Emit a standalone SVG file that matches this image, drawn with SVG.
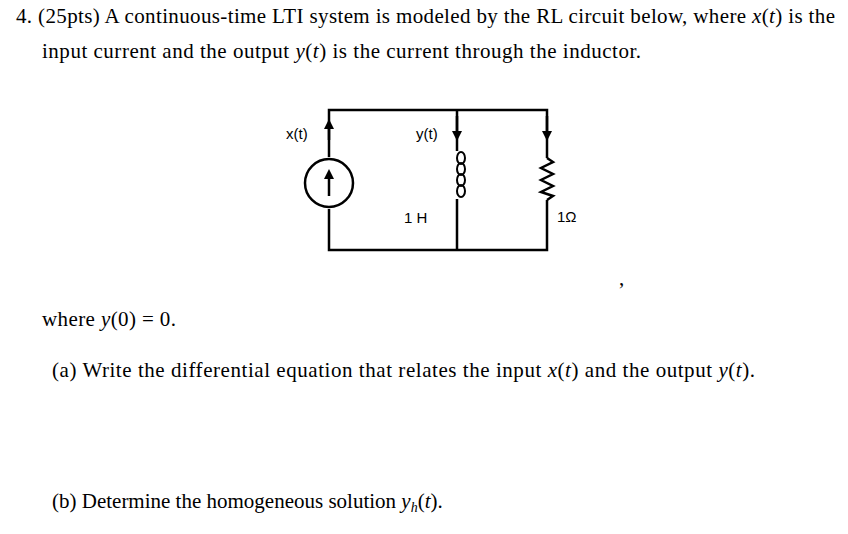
<svg xmlns="http://www.w3.org/2000/svg" width="848" height="534" viewBox="0 0 848 534">
<style>
.t{font-family:"Liberation Serif",serif;font-size:21px;fill:#000}
.i{font-style:italic}
.c{font-family:"Liberation Sans",sans-serif;font-size:15px;fill:#000}
.w{fill:none;stroke:#000;stroke-width:2.5}
.l{fill:none;stroke:#000;stroke-width:2}
</style>
<defs><marker id="ah" viewBox="0 0 10 10" refX="5" refY="5" markerWidth="4" markerHeight="4" orient="auto"><path d="M0,0 L10,5 L0,10 z" fill="#000"/></marker></defs>
<rect width="848" height="534" fill="#fff"/>
<text class="t" x="16" y="23" textLength="819" lengthAdjust="spacing">4. (25pts) A continuous-time LTI system is modeled by the RL circuit below, where <tspan class="i">x</tspan>(<tspan class="i">t</tspan>) is the</text>
<text class="t" x="42" y="58" textLength="599" lengthAdjust="spacing">input current and the output <tspan class="i">y</tspan>(<tspan class="i">t</tspan>) is the current through the inductor.</text>
<g id="circuit">
<path class="w" d="M329,157 V110 H547 V158 M329,209 V250 H547 V200 M457,110 V151 M457,199 V250"/>
<circle class="w" cx="329" cy="183" r="24"/>
<path d="M329,196 V174" stroke="#000" stroke-width="2.5" marker-end="url(#ah)"/>
<path d="M329,140 V124" stroke="#000" stroke-width="2.5" marker-end="url(#ah)"/>
<path d="M457,116 V136" stroke="#000" stroke-width="2.5" marker-end="url(#ah)"/>
<path d="M547,116 V136" stroke="#000" stroke-width="2.5" marker-end="url(#ah)"/>
<ellipse class="l" cx="461" cy="158" rx="4" ry="6"/>
<ellipse class="l" cx="461" cy="169" rx="4" ry="6"/>
<ellipse class="l" cx="461" cy="180" rx="4" ry="6"/>
<ellipse class="l" cx="461" cy="191" rx="4" ry="6"/>
<path class="w" d="M547,158 L553,162 L541,168 L553,174 L541,180 L553,186 L541,192 L553,196 L547,200"/>
<text class="c" x="286" y="139">x(t)</text>
<text class="c" x="416" y="139">y(t)</text>
<text class="c" x="404" y="223">1 H</text>
<text class="c" x="557" y="222">1Ω</text>
</g>
<text class="t" x="619" y="285" font-size="14">,</text>
<text class="t" x="42" y="326" textLength="134" lengthAdjust="spacing">where <tspan class="i">y</tspan>(0) = 0.</text>
<text class="t" x="52" y="377" textLength="703" lengthAdjust="spacing">(a) Write the differential equation that relates the input <tspan class="i">x</tspan>(<tspan class="i">t</tspan>) and the output <tspan class="i">y</tspan>(<tspan class="i">t</tspan>).</text>
<text class="t" x="52" y="508">(b) Determine the homogeneous solution <tspan class="i">y<tspan font-size="14" dy="4">h</tspan></tspan><tspan dy="-4">(</tspan><tspan class="i">t</tspan>).</text>
</svg>
